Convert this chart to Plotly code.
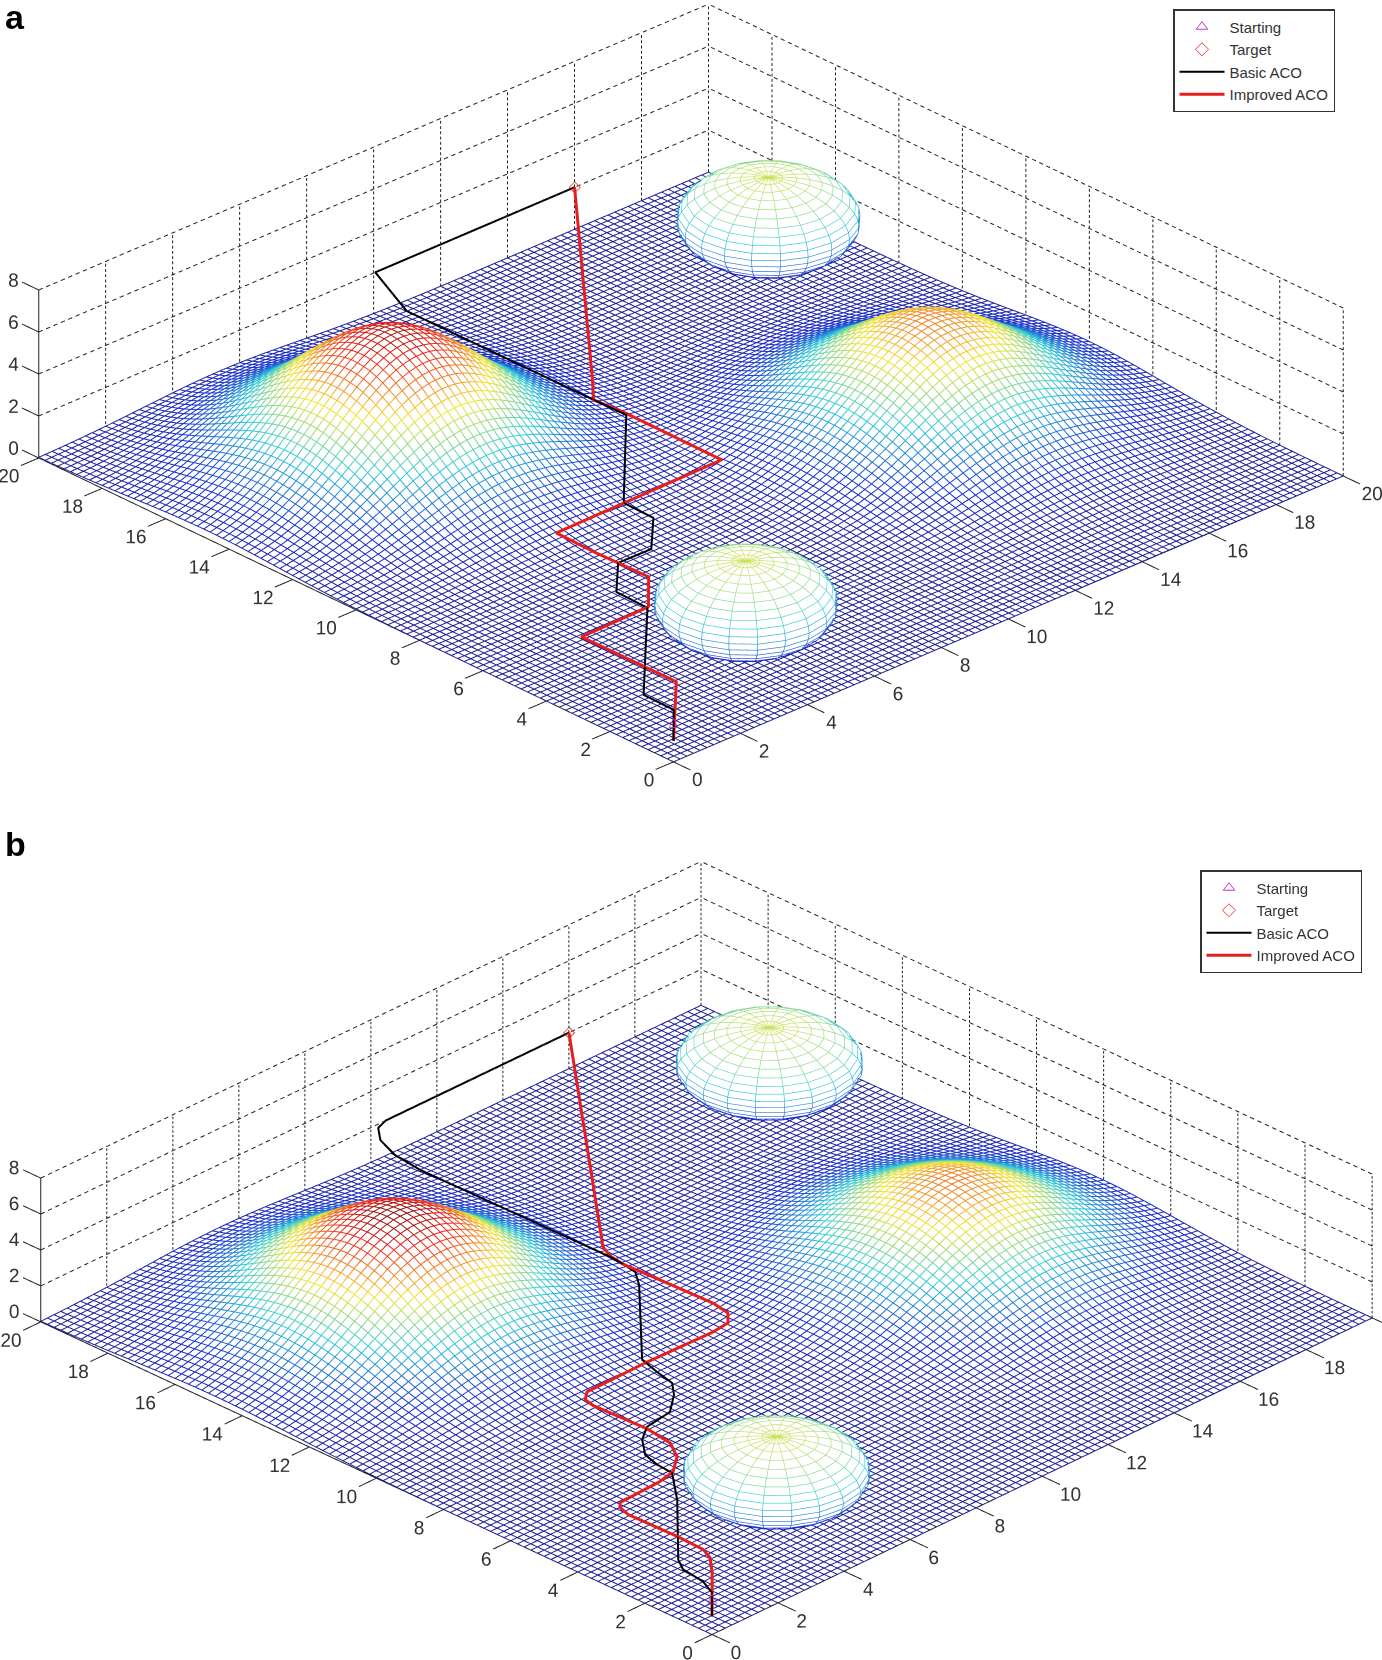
import numpy as np
import plotly.graph_objects as go

# Paths are read off the picture. The terrain and sphere meshes are NOT read point by point:
# they are computed from the hill / sphere parameters below, as no per-vertex reading is possible.
ticks_xy = [0, 2, 4, 6, 8, 10, 12, 14, 16, 18, 20]
ticks_z = [0, 2, 4, 6, 8]

hill_x_a = [5.5, 15.25]
hill_y_a = [14.7, 8.0]
hill_h_a = [6.1, 4.9]
hill_x_b = [5.45, 15.5]
hill_y_b = [14.8, 8.1]
hill_h_b = [5.85, 4.55]
hill_width = 3.3

sphere_x = [18, 5]
sphere_y = [16, 3]
sphere_z = [2, 2]
sphere_r = [2, 2]

start_point = [0, 0, 1]
target_point = [16, 20, 2]

basic_x_a = [16, 10.05, 9.27, 9.29, 9.31, 6.71, 6.69, 5.63, 4.65, 3.66, 3.63, 0.7, 0.68, 0]
basic_y_a = [20, 20, 18.19, 12.32, 11.31, 8.65, 7.69, 6.64, 6.65, 5.66, 4.65, 1.68, 0.71, 0]
basic_z_a = [2, 2, 2, 2, 2, 1.5, 1.5, 1.5, 1.5, 1.5, 1.5, 1.5, 1.5, 1]

improved_x_a = [16, 9.93, 9.29, 9.36, 9.68, 4.66, 4.63, 4.67, 3.68, 1.63, 1.65, 0]
improved_y_a = [20, 13.03, 12.32, 11.39, 8.7, 8.61, 7.31, 5.71, 4.67, 4.62, 1.65, 0]
improved_z_a = [2, 2, 2, 2, 1.5, 1.5, 1.5, 1.5, 1.5, 1.5, 1.5, 1]

basic_x_b = [16, 10.45, 10.1, 9.74, 9.48, 9.38, 9.43, 9.39, 9.61, 9.25, 6.9, 6.73, 6.6, 6.25, 5.64,
             4.82, 4.34, 3.9, 3.76, 3.72, 2.94, 1.03, 0.79, 0.7, 0.48, 0]
basic_y_b = [20, 20, 19.88, 19.46, 18.77, 17.91, 12.31, 11.89, 11.74, 11.27, 8.87, 8.26, 7.68, 7.28, 6.8,
             6.68, 6.35, 5.83, 5.33, 4.85, 3.93, 2.02, 1.64, 0.96, 0.47, 0]
basic_z_b = [2, 2, 2, 2, 2, 2, 2, 2, 1.5, 1.5, 1.5, 1.5, 1.5, 1.5, 1.5,
             1.5, 1.5, 1.5, 1.5, 1.5, 1.5, 1.5, 1.5, 1.5, 1.5, 1]

improved_x_b = [16, 9.64, 9.46, 9.39, 9.73, 9.77, 9.68, 9.36, 8.84, 6.84, 5.05, 4.77, 4.7, 4.76, 4.65,
                4.31, 3.77, 3.25, 1.99, 1.83, 1.73, 1.76, 1.73, 1.57, 1.12, 0]
improved_y_b = [20, 12.73, 12.34, 11.89, 10.91, 9.58, 9.05, 8.73, 8.67, 8.72, 8.69, 8.47, 8.16, 6.61, 5.82,
                5.28, 4.87, 4.76, 4.7, 4.54, 4.2, 2.75, 1.97, 1.6, 1.1, 0]
improved_z_b = [2, 2, 2, 2, 1.5, 1.5, 1.5, 1.5, 1.5, 1.5, 1.5, 1.5, 1.5, 1.5, 1.5,
                1.5, 1.5, 1.5, 1.5, 1.5, 1.5, 1.5, 1.5, 1.5, 1.5, 1]

jet = [[0, 'rgb(30,30,145)'], [0.125, 'rgb(25,45,205)'], [0.375, 'rgb(50,205,220)'],
       [0.625, 'rgb(245,230,50)'], [0.875, 'rgb(235,35,30)'], [1, 'rgb(125,10,10)']]
white = [[0, 'white'], [1, 'white']]
font_family = 'Liberation Sans'
axis_color = '#222222'
text_color = '#333333'


def mesh_lines(gx, gy, gz, cmax, width):
    # every row and column of the grid, as one polyline with gaps
    xs, ys, zs = [], [], []
    for a, b, c in [(gx, gy, gz), (gx.T, gy.T, gz.T)]:
        for i in range(a.shape[0]):
            xs += list(a[i]) + [None]
            ys += list(b[i]) + [None]
            zs += list(c[i]) + [None]
    colors = [0 if v is None else v for v in zs]
    return go.Scatter3d(x=xs, y=ys, z=zs, mode='lines', showlegend=False, hoverinfo='skip',
                        line=dict(width=width, color=colors, colorscale=jet, cmin=0, cmax=cmax))


def white_surface(gx, gy, gz):
    return go.Surface(x=gx, y=gy, z=gz, colorscale=white, showscale=False, hoverinfo='skip',
                      lighting=dict(ambient=1, diffuse=0, specular=0, fresnel=0, roughness=1))


def dashes(p0, p1, on, off):
    # the dash setting of 3D lines scales with the data, so dashes are cut by hand
    p0, p1 = np.array(p0, float), np.array(p1, float)
    length = np.linalg.norm(p1 - p0)
    u = (p1 - p0) / length
    out = []
    t = 0.0
    while t < length:
        a = p0 + u * t
        b = p0 + u * min(t + on, length)
        out.append((a, b))
        t += on + off
    return out


def segments_trace(segs, width, color):
    xs, ys, zs = [], [], []
    for a, b in segs:
        xs += [a[0], b[0], None]
        ys += [a[1], b[1], None]
        zs += [a[2], b[2], None]
    return go.Scatter3d(x=xs, y=ys, z=zs, mode='lines', showlegend=False, hoverinfo='skip',
                        line=dict(width=width, color=color))


def wall_lines():
    segs = []
    for t in ticks_xy:
        segs += dashes([t, 20, 0], [t, 20, 8], 0.14, 0.11)
        segs += dashes([20, t, 0], [20, t, 8], 0.14, 0.11)
    for h in ticks_z[1:]:
        segs += dashes([0, 20, h], [20, 20, h], 0.12, 0.1)
        segs += dashes([20, 0, h], [20, 20, h], 0.12, 0.1)
    return segments_trace(segs, 2, axis_color)


def axis_marks(label_drop):
    # MATLAB style axes: ticks leave the box along the other floor axis, which plotly axes cannot do
    segs = [([0, 0, 0], [20, 0, 0]), ([0, 0, 0], [0, 20, 0]), ([0, 20, 0], [0, 20, 8])]
    for t in ticks_xy:
        segs.append(([t, 0, 0], [t, -0.53, 0]))
        segs.append(([0, t, 0], [-0.53, t, 0]))
    for h in ticks_z:
        segs.append(([0, 20, h], [0, 20.53, h]))
    label_font = dict(family=font_family, size=19, color=text_color)
    out = [segments_trace(segs, 2, axis_color)]
    # y labels end at their anchor, x labels start at it, as in the original
    out.append(go.Scatter3d(x=ticks_xy, y=[-0.01] * len(ticks_xy), z=[-label_drop] * len(ticks_xy),
                            mode='text', text=[str(v) for v in ticks_xy], textposition='middle right',
                            textfont=label_font, showlegend=False, hoverinfo='skip'))
    out.append(go.Scatter3d(x=[-0.03] * len(ticks_xy), y=ticks_xy, z=[-label_drop] * len(ticks_xy),
                            mode='text', text=[str(v) for v in ticks_xy], textposition='middle left',
                            textfont=label_font, showlegend=False, hoverinfo='skip'))
    out.append(go.Scatter3d(x=[0] * len(ticks_z), y=[20.8] * len(ticks_z), z=[h - 0.1 for h in ticks_z],
                            mode='text', text=[str(v) for v in ticks_z], textposition='middle center',
                            textfont=label_font, showlegend=False, hoverinfo='skip'))
    return out


def panel(scene, hx, hy, hh, cmax, label_drop, bx, by, bz, ix, iy, iz):
    traces = [wall_lines()] + axis_marks(label_drop)
    g = np.linspace(0, 20, 101)
    gx, gy = np.meshgrid(g, g)
    gz = np.zeros_like(gx)
    for x0, y0, h in zip(hx, hy, hh):
        gz += h * np.exp(-((gx - x0) ** 2 + (gy - y0) ** 2) / hill_width ** 2)
    traces.append(white_surface(gx, gy, gz - 0.03))
    traces.append(mesh_lines(gx, gy, gz, cmax, 2))
    lon = np.linspace(0, 2 * np.pi, 21)
    lat = np.linspace(-np.pi / 2, np.pi / 2, 21)
    lo, la = np.meshgrid(lon, lat)
    for x0, y0, z0, r in zip(sphere_x, sphere_y, sphere_z, sphere_r):
        sx = x0 + r * np.cos(la) * np.cos(lo)
        sy = y0 + r * np.cos(la) * np.sin(lo)
        sz = z0 + r * np.sin(la)
        traces.append(white_surface(x0 + (sx - x0) * 0.985, y0 + (sy - y0) * 0.985, z0 + (sz - z0) * 0.985))
        traces.append(mesh_lines(sx, sy, sz, 7, 1.3))
    traces.append(go.Scatter3d(x=bx, y=by, z=bz, mode='lines', showlegend=False, hoverinfo='skip',
                               line=dict(width=4, color='black')))
    traces.append(go.Scatter3d(x=ix, y=iy, z=iz, mode='lines', showlegend=False, hoverinfo='skip',
                               line=dict(width=6, color='rgb(230,30,30)')))
    traces.append(go.Scatter3d(x=[target_point[0]], y=[target_point[1]], z=[target_point[2]], mode='markers',
                               showlegend=False, hoverinfo='skip',
                               marker=dict(size=4, symbol='diamond-open', color='rgb(240,60,60)')))
    traces.append(go.Scatter3d(x=[start_point[0]], y=[start_point[1]], z=[start_point[2]], mode='text',
                               text=['△'], textfont=dict(family='DejaVu Sans', size=13, color='rgb(200,50,200)'),
                               showlegend=False, hoverinfo='skip'))
    for t in traces:
        t.scene = scene
    return traces


def axis(rng):
    return dict(range=rng, visible=False, showgrid=False, zeroline=False, showbackground=False,
                showspikes=False, showline=False, showticklabels=False, ticks='', title=dict(text=''))


def scene_layout(domain_y, eye, aspect, center):
    return dict(domain=dict(x=[0, 1], y=domain_y),
                xaxis=axis([-2, 22]), yaxis=axis([-2, 22]), zaxis=axis([-2, 10]),
                aspectmode='manual', aspectratio=dict(x=aspect[0], y=aspect[1], z=aspect[2]),
                bgcolor='rgba(0,0,0,0)',
                camera=dict(projection=dict(type='orthographic'),
                            eye=dict(x=eye[0] + center[0], y=eye[1] + center[1], z=eye[2] + center[2]),
                            up=dict(x=0, y=0, z=1),
                            center=dict(x=center[0], y=center[1], z=center[2])))


fig = go.Figure()
for t in panel('scene', hill_x_a, hill_y_a, hill_h_a, 6.5, 0.82, basic_x_a, basic_y_a, basic_z_a,
               improved_x_a, improved_y_a, improved_z_a):
    fig.add_trace(t)
for t in panel('scene2', hill_x_b, hill_y_b, hill_h_b, 6.0, 0.98, basic_x_b, basic_y_b, basic_z_b,
               improved_x_b, improved_y_b, improved_z_b):
    fig.add_trace(t)

# legend entries, on a hidden 2D axis because 3D markers have no triangle
for leg in ['legend', 'legend2']:
    fig.add_trace(go.Scatter(x=[None], y=[None], mode='markers', name='Starting', legend=leg,
                             marker=dict(symbol='triangle-up-open', size=10, color='rgb(200,50,200)')))
    fig.add_trace(go.Scatter(x=[None], y=[None], mode='markers', name='Target', legend=leg,
                             marker=dict(symbol='diamond-open', size=10, color='rgb(240,60,60)')))
    fig.add_trace(go.Scatter(x=[None], y=[None], mode='lines', name='Basic ACO', legend=leg,
                             line=dict(color='black', width=2)))
    fig.add_trace(go.Scatter(x=[None], y=[None], mode='lines', name='Improved ACO', legend=leg,
                             line=dict(color='rgb(230,30,30)', width=3)))

# orthographic zoom in plotly comes from the aspect ratio, not from the eye distance
eye_k = 4
eye_a = [-0.6125 * eye_k, -0.6487 * eye_k, 0.4521 * eye_k]
eye_b = [-0.6275 * eye_k, -0.6184 * eye_k, 0.4725 * eye_k]
aspect_a = [2.7636, 2.7738, 0.70608]
aspect_b = [2.64, 2.6453, 0.57252]
center_a = [-0.31 * 0.0425, -0.329 * 0.0425, -0.892 * 0.0425]
center_b = [-0.365 * 0.03626, 1.044 * 0.03626, 0.881 * 0.03626]

legend_style = dict(xanchor='left', yanchor='top', bordercolor='#333333', borderwidth=1.5, bgcolor='white',
                    font=dict(family=font_family, size=15, color='#333333'), itemwidth=45, tracegroupgap=0)

fig.update_layout(
    width=1382, height=1660, margin=dict(l=0, r=0, t=0, b=0), paper_bgcolor='white', plot_bgcolor='white',
    xaxis=dict(visible=False, domain=[0, 0.01]), yaxis=dict(visible=False, domain=[0, 0.01]),
    scene=scene_layout([1 - 800 / 1660, 1], eye_a, aspect_a, center_a),
    scene2=scene_layout([0, 1 - 805 / 1660], eye_b, aspect_b, center_b),
    legend=dict(x=1173 / 1382, y=1 - 9 / 1660, **legend_style),
    legend2=dict(x=1200 / 1382, y=1 - 870 / 1660, **legend_style),
    annotations=[
        dict(text='<b>a</b>', x=3 / 1382, y=1 + 4 / 1660, xref='paper', yref='paper', xanchor='left',
             yanchor='top', showarrow=False, font=dict(family=font_family, size=34, color='black')),
        dict(text='<b>b</b>', x=3 / 1382, y=1 - 823 / 1660, xref='paper', yref='paper', xanchor='left',
             yanchor='top', showarrow=False, font=dict(family=font_family, size=34, color='black')),
    ],
)
fig.write_html("out.html", config=dict(displayModeBar=False),
               post_script="document.body.style.margin='0';")
